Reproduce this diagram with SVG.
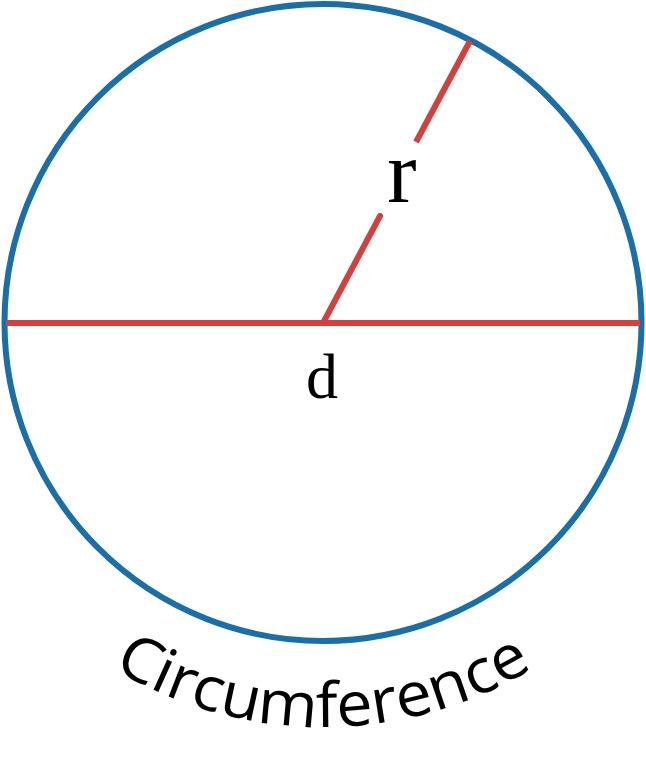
<svg xmlns="http://www.w3.org/2000/svg" width="646" height="776" viewBox="0 0 646 776">
<style>
.red{stroke:#d2413e;stroke-width:6;fill:none;stroke-linecap:round}
.serif{font-family:"Liberation Serif","Times New Roman",serif;fill:#000}
.sans{font-family:"Open Sans","Noto Sans",sans-serif;fill:#000}
</style>
<defs>
<path id="arc" d="M -82 322 A 405 405 0 0 0 728 322"/>
</defs>
<g id="circle">
<circle cx="323" cy="322.5" r="318.5" fill="none" stroke="#1a6fa8" stroke-width="6"/>
</g>
<g id="connectors">
<line class="red" x1="6" y1="323" x2="640" y2="323" style="stroke-linecap:butt"/>
<line class="red" x1="323" y1="323" x2="380" y2="216"/>
<line class="red" x1="416" y1="142" x2="470" y2="41" style="stroke-linecap:butt"/>
</g>
<g id="label-r">
<text class="serif" x="402" y="202" font-size="88" text-anchor="middle">r</text>
</g>
<g id="label-d">
<text class="serif" x="322" y="398" font-size="64" text-anchor="middle">d</text>
</g>
<g id="label-circumference">
<text class="sans" font-size="62"><textPath href="#arc" startOffset="50%" text-anchor="middle" textLength="442" lengthAdjust="spacingAndGlyphs">Circumference</textPath></text>
</g>
</svg>
